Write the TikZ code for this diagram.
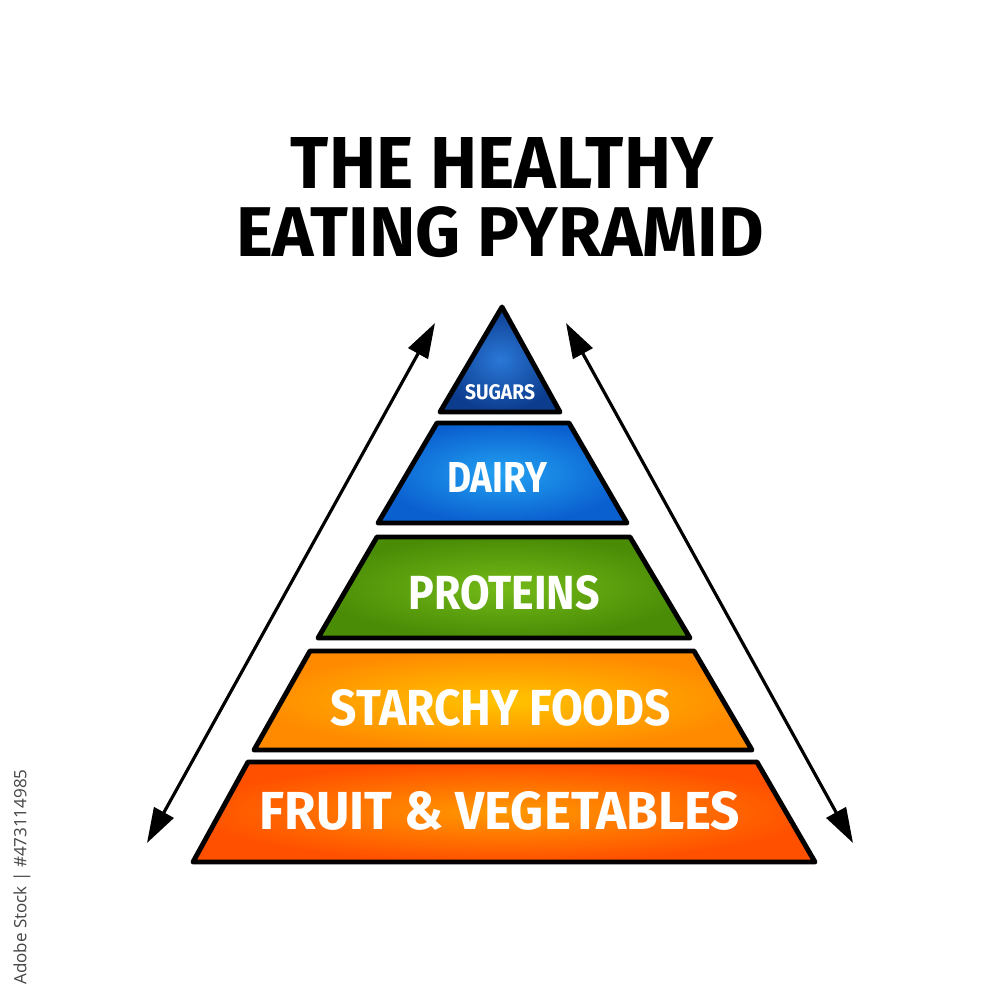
\documentclass[tikz,border=0pt]{standalone}
\usepackage{fontspec}
\setmainfont{Fira Sans}
\newfontfamily\wmfont{Open Sans}
\usetikzlibrary{arrows.meta}
\definecolor{sugIn}{HTML}{2A78D8}
\definecolor{sugOut}{HTML}{0C3C8E}
\definecolor{daiIn}{HTML}{22A2F2}
\definecolor{daiOut}{HTML}{0B60D0}
\definecolor{proIn}{HTML}{74BA18}
\definecolor{proOut}{HTML}{4A8C06}
\definecolor{staIn}{HTML}{FFC400}
\definecolor{staOut}{HTML}{FF8A00}
\definecolor{friIn}{HTML}{FF9A00}
\definecolor{friOut}{HTML}{FF5000}
\definecolor{wmgray}{HTML}{444444}
\newcommand{\fitbox}[3]{\resizebox{#1}{#2}{#3}}
\begin{document}
\begin{tikzpicture}[x=0.1mm,y=-0.1mm,
  layer/.style={draw=black, line width=1.4pt, line join=round},
  lbl/.style={text=white, inner sep=0pt, font=\bfseries},
  ttl/.style={text=black, inner sep=0pt, font=\bfseries},
  dblarrow/.style={line width=0.9pt, {Triangle[length=3.5mm,width=2.2mm]}-{Triangle[length=3.5mm,width=2.2mm]}},
]
\useasboundingbox[fill=white] (0,0) rectangle (1000,1000);

% title
\node[ttl] (t1) at (502,163) {\fitbox{42.2mm}{5.1mm}{THE HEALTHY}};
\node[ttl] (t2) at (500,232) {\fitbox{52.8mm}{5.0mm}{EATING PYRAMID}};

% layers
\shadedraw[layer, inner color=sugIn, outer color=sugOut]
  (502,307) -- (560,412) -- (440,412) -- cycle;
\shadedraw[layer, inner color=daiIn, outer color=daiOut]
  (437,423) -- (569,423) -- (627,523) -- (378,523) -- cycle;
\shadedraw[layer, inner color=proIn, outer color=proOut]
  (377,537) -- (630,537) -- (690,638) -- (318,638) -- cycle;
\shadedraw[layer, inner color=staIn, outer color=staOut]
  (310,651) -- (694,651) -- (752,750) -- (254,750) -- cycle;
\shadedraw[layer, inner color=friIn, outer color=friOut]
  (248,762) -- (757,762) -- (815,862) -- (193,862) -- cycle;

% labels
\node[lbl] (sug) at (500,392) {\fitbox{7.0mm}{1.5mm}{SUGARS}};
\node[lbl] (dai) at (497,477) {\fitbox{10.0mm}{3.0mm}{DAIRY}};
\node[lbl] (pro) at (504,593) {\fitbox{19.1mm}{3.4mm}{PROTEINS}};
\node[lbl] (sta) at (501,708) {\fitbox{34.0mm}{3.6mm}{STARCHY FOODS}};
\node[lbl] (fru) at (500,811) {\fitbox{48.0mm}{3.8mm}{FRUIT \& VEGETABLES}};

% arrows
\coordinate (la) at (435,323);
\coordinate (lb) at (147,843);
\coordinate (ra) at (566,323);
\coordinate (rb) at (853,843);
\draw[dblarrow] (la) -- (lb);
\draw[dblarrow] (ra) -- (rb);

% side credit
\node[rotate=90, inner sep=0pt, text=wmgray] (wm) at (22,877)
  {\fitbox{21.5mm}{!}{\wmfont Adobe Stock | \#473114985}};
\end{tikzpicture}
\end{document}
